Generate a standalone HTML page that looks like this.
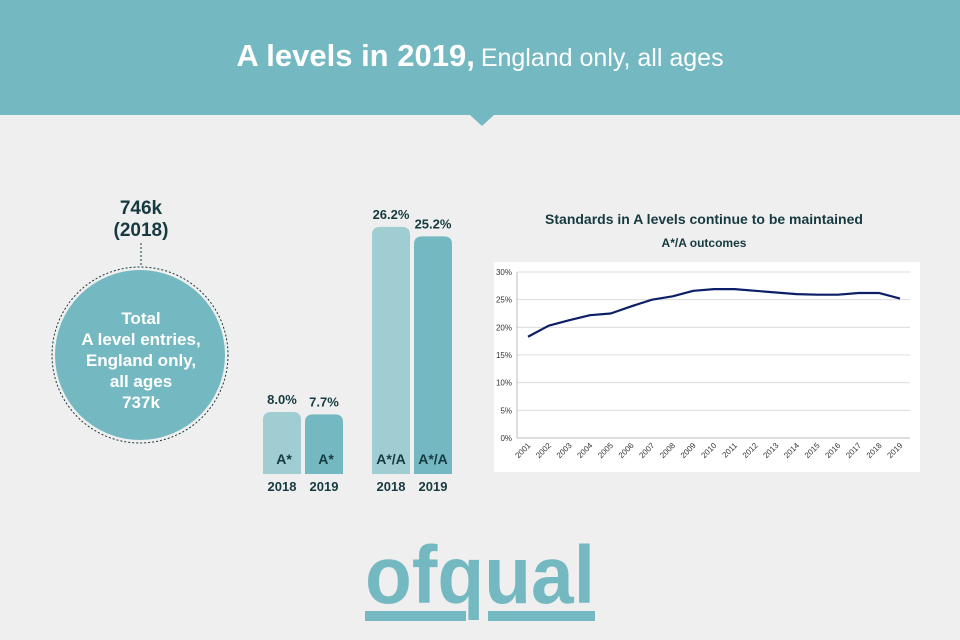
<!DOCTYPE html>
<html><head><meta charset="utf-8">
<style>
body{margin:0;width:960px;height:640px;background:#efefef;font-family:"Liberation Sans",sans-serif;overflow:hidden}
svg{display:block}
</style></head>
<body>
<svg width="960" height="640" viewBox="0 0 960 640">
  <rect x="0" y="0" width="960" height="115" fill="#74b9c1"/>
  <polygon points="470,115 494,115 482,126" fill="#74b9c1"/>
  <text x="480" y="66" text-anchor="middle" fill="#fff"><tspan font-size="31" font-weight="bold">A levels in 2019,</tspan><tspan font-size="25" dx="6">England only, all ages</tspan></text>

  <!-- circle -->
  <text x="141" y="214" text-anchor="middle" font-size="19" font-weight="bold" fill="#163a40">746k</text>
  <text x="141" y="236" text-anchor="middle" font-size="19" font-weight="bold" fill="#163a40">(2018)</text>
  <line x1="141" y1="243" x2="141" y2="266" stroke="#163a40" stroke-dasharray="2,2" stroke-width="1"/>
  <circle cx="140" cy="355" r="88" fill="none" stroke="#163a40" stroke-dasharray="2,2" stroke-width="1"/>
  <circle cx="140" cy="355" r="85" fill="#74b9c1"/>
  <g fill="#fff" font-size="17" font-weight="bold" text-anchor="middle">
    <text x="141" y="324">Total</text>
    <text x="141" y="345">A level entries,</text>
    <text x="141" y="366">England only,</text>
    <text x="141" y="387">all ages</text>
    <text x="141" y="408">737k</text>
  </g>

  <g id="bars"></g>

  <!-- line chart -->
  <text x="704" y="224" text-anchor="middle" font-size="14" font-weight="bold" fill="#163a40">Standards in A levels continue to be maintained</text>
  <text x="704" y="247" text-anchor="middle" font-size="12" font-weight="bold" fill="#163a40">A*/A outcomes</text>
  <rect x="494" y="262" width="426" height="210" fill="#fff"/>
  <g id="line"></g>

  <!-- logo -->
  <text x="365" y="603" font-size="82" font-weight="bold" fill="#74b9c1" textLength="230" lengthAdjust="spacingAndGlyphs">ofqual</text>
  <rect x="365" y="611" width="101" height="10" fill="#74b9c1"/>
  <rect x="488" y="611" width="107" height="10" fill="#74b9c1"/>
</svg>
<script>
const NS="http://www.w3.org/2000/svg";
function mk(t,a,p){const e=document.createElementNS(NS,t);for(const k in a)e.setAttribute(k,a[k]);p.appendChild(e);return e;}

// bar data
const barYears=["2018","2019","2018","2019"];
const barGrades=["A*","A*","A*/A","A*/A"];
const barValues=[8.0,7.7,26.2,25.2];
const barLabels=["8.0%","7.7%","26.2%","25.2%"];
const barColors=["#9fcdd2","#74b9c1","#9fcdd2","#74b9c1"];
const bx=[263,305,372,414];
const base=474;
function barH(i){return barGrades[i]==="A*"? barValues[i]*7.75 : barValues[i]*9.43;}
const bg=document.getElementById('bars');
barValues.forEach((v,i)=>{
  const h=barH(i),top=base-h,x=bx[i],w=38;
  const p=mk('path',{d:`M${x},${base}V${top+8}Q${x},${top} ${x+8},${top}H${x+w-8}Q${x+w},${top} ${x+w},${top+8}V${base}Z`,fill:barColors[i]},bg);
  
  
  const t=mk('text',{x:x+w/2,y:top-8,'text-anchor':'middle','font-size':13,'font-weight':'bold',fill:'#163a40'},bg);
  t.textContent=barLabels[i];
  
  
  const g=mk('text',{x:x+w/2+(barGrades[i]==="A*"?2:0),y:464,'text-anchor':'middle','font-size':14,'font-weight':'bold',fill:'#163a40'},bg);
  g.textContent=barGrades[i];
  
  
  const yl=mk('text',{x:x+w/2,y:491,'text-anchor':'middle','font-size':13,'font-weight':'bold',fill:'#163a40'},bg);
  yl.textContent=barYears[i];
  
  
});

// line data
const years=["2001","2002","2003","2004","2005","2006","2007","2008","2009","2010","2011","2012","2013","2014","2015","2016","2017","2018","2019"];
const outcomes=[18.3,20.3,21.3,22.2,22.5,23.8,25.0,25.6,26.6,26.9,26.9,26.6,26.3,26.0,25.9,25.9,26.2,26.2,25.2];
const yTicks=[0,5,10,15,20,25,30];
const yTickLabels=["0%","5%","10%","15%","20%","25%","30%"];
const lg=document.getElementById('line');
const X0=528,X1=900,Y0=438,Y1=272;
const xs=i=>X0+(X1-X0)*i/(years.length-1);
const ys=v=>Y0-(Y0-Y1)*v/30;
yTicks.forEach((v,i)=>{
  const l=mk('line',{x1:517,x2:910,y1:ys(v),y2:ys(v),stroke:v===0?'#bdbdbd':'#dcdcdc','stroke-width':1},lg);
  
  
  const t=mk('text',{x:512,y:ys(v)+3,'text-anchor':'end','font-size':8,fill:'#333'},lg);
  t.textContent=yTickLabels[i];
  
  
});
const ax=mk('line',{x1:517,x2:517,y1:Y1,y2:Y0,stroke:'#bdbdbd'},lg);


years.forEach((y,i)=>{
  const t=mk('text',{x:xs(i)+3,y:446,'text-anchor':'end','font-size':8,fill:'#333',transform:`rotate(-45 ${xs(i)+3} 446)`},lg);
  t.textContent=y;
  
  
});
const pl=mk('polyline',{points:outcomes.map((v,i)=>xs(i)+','+ys(v)).join(' '),fill:'none',stroke:'#0d1f66','stroke-width':2.2,'stroke-linejoin':'round'},lg);


</script>
</body></html>
